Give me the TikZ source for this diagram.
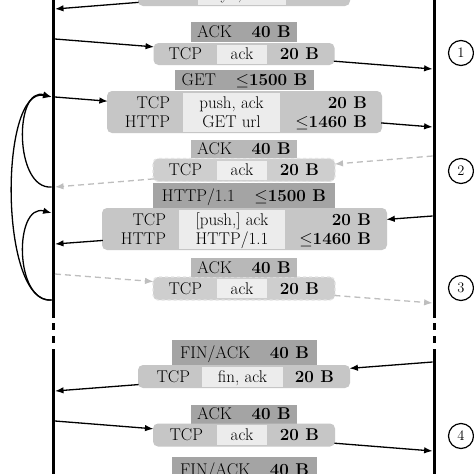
\documentclass[tikz,border=0pt]{standalone}
\usetikzlibrary{arrows.meta,calc}
\definecolor{hdrc}{RGB}{164,164,164}
\definecolor{rowc}{RGB}{198,198,198}
\definecolor{midc}{RGB}{236,236,236}
\definecolor{hdrdc}{RGB}{184,184,184}
\definecolor{rowdc}{RGB}{206,206,206}
\definecolor{borddc}{RGB}{228,228,228}
\definecolor{middc}{RGB}{238,238,238}
\definecolor{dashc}{RGB}{190,190,190}
\newcommand\hdrtext[2]{#1\hspace{19.5pt}\textbf{#2}}
\begin{document}
\begin{tikzpicture}[x=1pt,y=-1pt,
  every node/.style={inner sep=0pt, outer sep=0pt},
  txt/.style={font=\fontsize{17}{20}\selectfont, text height=11.6pt, text depth=0pt},
  hdr/.style={txt, fill=hdrc},
  hdrd/.style={txt, fill=hdrdc},
  rowbox/.style={fill=rowc, rounded corners=5pt},
  rowboxd/.style={fill=rowdc, draw=borddc, dashed, line width=1.2pt, rounded corners=5pt},
  midcell/.style={fill=midc},
  midcelld/.style={fill=middc},
  lbl/.style={txt, anchor=east},
  sz/.style={txt, anchor=east, font=\fontsize{17}{20}\selectfont\bfseries},
  mtx/.style={txt},
  msg/.style={line width=1.3pt, -{Latex[length=8.5pt,width=6.5pt]}},
  msgd/.style={line width=1.3pt, dashc, dash pattern=on 6pt off 4pt, -{Latex[length=8.5pt,width=6.5pt]}},
  life/.style={line width=3.3pt},
  loopc/.style={line width=1.3pt, -{Latex[length=8.5pt,width=6.5pt]}},
  stepnum/.style={draw, circle, line width=1.2pt, minimum size=25pt, font=\fontsize{14.5}{16}\selectfont},
]
\useasboundingbox (0,0) rectangle (474,474);
\clip (0,0) rectangle (474,474);
\fill[white] (0,0) rectangle (474,474);

% lifelines
\draw[life] (53.3,-5) -- (53.3,318) (53.3,323) -- (53.3,330) (53.3,336) -- (53.3,343) (53.3,349) -- (53.3,480);
\draw[life] (434.3,-5) -- (434.3,318) (434.3,323) -- (434.3,330) (434.3,336) -- (434.3,343) (434.3,349) -- (434.3,480);

% step numbers
\node[stepnum] (n1) at (461,53) {1};
\node[stepnum] (n2) at (461,171) {2};
\node[stepnum] (n3) at (461,288) {3};
\node[stepnum] (n4) at (461,436) {4};

% lifeline coordinates
\coordinate (R0) at (432.6,-21); \coordinate (L0) at (55,9);
\coordinate (L1) at (55,39);     \coordinate (R1) at (432.6,69);
\coordinate (L2) at (55,97);     \coordinate (R2) at (432.6,127);
\coordinate (R3) at (432.6,156); \coordinate (L3) at (55,187);
\coordinate (R4) at (432.6,216); \coordinate (L4) at (55,244);
\coordinate (L5) at (55,274);    \coordinate (R5) at (432.6,303);
\coordinate (R6) at (432.6,362); \coordinate (L6) at (55,391);
\coordinate (L7) at (55,421);    \coordinate (R7) at (432.6,451);

% G0 (syn, ack) -- mostly above the frame
\node[rowbox, minimum width=212pt, minimum height=22pt] (row0) at (244,-5) {};
\node[midcell, minimum width=88pt, minimum height=19pt] (mid0) at (242,-5) {};
\node[mtx] (t0b) at (242,-6) {syn, ack};

% G1
\node[hdr, minimum width=106pt, minimum height=20pt] (h1) at (244,32) {\hdrtext{ACK}{40 B}};
\node[rowbox, minimum width=181pt, minimum height=22pt] (row1) at (244,54) {};
\node[midcell, minimum width=50pt, minimum height=19pt] (mid1) at (242,54) {};
\node[lbl] (t1a) at (202,54) {TCP};
\node[mtx] (t1b) at (242,54) {ack};
\node[sz] (t1c) at (319,54) {20 B};

% G2
\node[hdr, minimum width=139pt, minimum height=20pt] (h2) at (244.5,80) {\hdrtext{GET}{$\leq$1500 B}};
\node[rowbox, minimum width=275pt, minimum height=42pt] (row2) at (244.5,112) {};
\node[midcell, minimum width=97pt, minimum height=39pt] (mid2) at (231.5,112) {};
\node[lbl] (t2a) at (170,102.25) {TCP};
\node[lbl] (t2b) at (170,121.75) {HTTP};
\node[mtx] (t2c) at (231.5,102.25) {push, ack};
\node[mtx] (t2d) at (231.5,121.75) {GET url};
\node[sz] (t2e) at (367,102.25) {20 B};
\node[sz] (t2f) at (367,121.75) {$\leq$1460 B};

% G3 (dashed)
\node[rowboxd, minimum width=182pt, minimum height=23pt] (row3) at (244,170) {};
\node[hdrd, minimum width=106pt, minimum height=18pt] (h3) at (244,149) {\hdrtext{ACK}{40 B}};
\node[midcelld, minimum width=50pt, minimum height=19pt] (mid3) at (242,170) {};
\node[lbl] (t3a) at (202,170) {TCP};
\node[mtx] (t3b) at (242,170) {ack};
\node[sz] (t3c) at (319,170) {20 B};

% G4
\node[hdr, minimum width=182pt, minimum height=25pt] (h4) at (244,195.5) {\hdrtext{HTTP/1.1}{$\leq$1500 B}};
\node[rowbox, minimum width=285pt, minimum height=42pt] (row4) at (244.5,229) {};
\node[midcell, minimum width=106pt, minimum height=39pt] (mid4) at (232,229) {};
\node[lbl] (t4a) at (166,219.25) {TCP};
\node[lbl] (t4b) at (166,238.75) {HTTP};
\node[mtx] (t4c) at (232,219.25) {[push,] ack};
\node[mtx] (t4d) at (232,238.75) {HTTP/1.1};
\node[sz] (t4e) at (371,219.25) {20 B};
\node[sz] (t4f) at (371,238.75) {$\leq$1460 B};

% G5 (dashed)
\node[rowboxd, minimum width=182pt, minimum height=23pt] (row5) at (244,288.5) {};
\node[hdrd, minimum width=106pt, minimum height=19pt] (h5) at (244,267.5) {\hdrtext{ACK}{40 B}};
\node[midcelld, minimum width=50pt, minimum height=19pt] (mid5) at (242,288.5) {};
\node[lbl] (t5a) at (202,288.5) {TCP};
\node[mtx] (t5b) at (242,288.5) {ack};
\node[sz] (t5c) at (319,288.5) {20 B};

% G6
\node[hdr, minimum width=145pt, minimum height=25pt] (h6) at (244.5,352.5) {\hdrtext{FIN/ACK}{40 B}};
\node[rowbox, minimum width=212pt, minimum height=23pt] (row6) at (244,376.5) {};
\node[midcell, minimum width=81pt, minimum height=20pt] (mid6) at (242.5,376.5) {};
\node[lbl] (t6a) at (190,376.5) {TCP};
\node[mtx] (t6b) at (242.5,376.5) {fin, ack};
\node[sz] (t6c) at (334,376.5) {20 B};

% G7
\node[hdr, minimum width=106pt, minimum height=19pt] (h7) at (244,414) {\hdrtext{ACK}{40 B}};
\node[rowbox, minimum width=182pt, minimum height=23pt] (row7) at (244,435) {};
\node[midcell, minimum width=50pt, minimum height=20pt] (mid7) at (242,435) {};
\node[lbl] (t7a) at (203,435) {TCP};
\node[mtx] (t7b) at (242,435) {ack};
\node[sz] (t7c) at (319,435) {20 B};

% G8 (header only, cut by the frame)
\node[hdr, minimum width=145pt, minimum height=25pt] (h8) at (244.5,469.5) {\hdrtext{FIN/ACK}{40 B}};

% messages
\draw[msg] (R0) -- ($(R0)!(row0.east)!(L0)$);
\draw[msg] ($(R0)!(row0.west)!(L0)$) -- (L0);
\draw[msg] (L1) -- ($(L1)!(row1.west)!(R1)$);
\draw[msg] ($(L1)!(row1.east)!(R1)$) -- (R1);
\draw[msg] (L2) -- ($(L2)!(row2.west)!(R2)$);
\draw[msg] ($(L2)!(row2.east)!(R2)$) -- (R2);
\draw[msgd] (R3) -- ($(R3)!(row3.east)!(L3)$);
\draw[msgd] ($(R3)!(row3.west)!(L3)$) -- (L3);
\draw[msg] (R4) -- ($(R4)!(row4.east)!(L4)$);
\draw[msg] ($(R4)!(row4.west)!(L4)$) -- (L4);
\draw[msgd] (L5) -- ($(L5)!(row5.west)!(R5)$);
\draw[msgd] ($(L5)!(row5.east)!(R5)$) -- (R5);
\draw[msg] (R6) -- ($(R6)!(row6.east)!(L6)$);
\draw[msg] ($(R6)!(row6.west)!(L6)$) -- (L6);
\draw[msg] (L7) -- ($(L7)!(row7.west)!(R7)$);
\draw[msg] ($(L7)!(row7.east)!(R7)$) -- (R7);

% loops on the left
\coordinate (ca0) at (51.6,187); \coordinate (ca1) at (51.6,97);
\coordinate (cb0) at (51.6,300); \coordinate (cc1) at (51.6,213);
\draw[loopc] (ca0) .. controls (14,190) and (14,86) .. (ca1);
\draw[loopc] (cb0) .. controls (-1,305) and (-1,86) .. (ca1);
\draw[loopc] (cb0) .. controls (14,303) and (14,203) .. (cc1);
\end{tikzpicture}
\end{document}
